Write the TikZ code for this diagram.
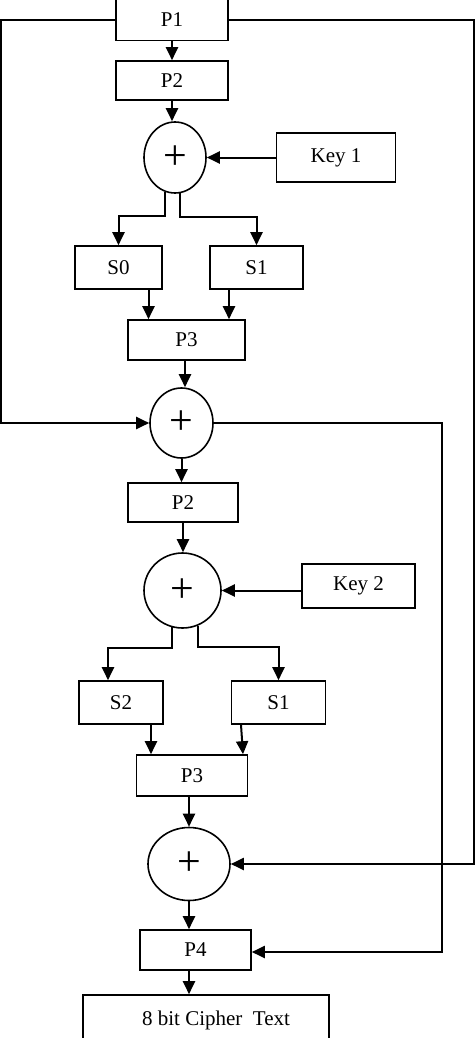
\documentclass[tikz,border=0pt]{standalone}
\usepackage{fontspec}
\setmainfont{Liberation Serif}
\usetikzlibrary{arrows.meta,shapes.geometric,positioning}

\begin{document}
\begin{tikzpicture}[x=1pt, y=-1pt, >={Triangle[length=13pt,width=12pt]}, line width=2pt,
    block/.style={draw, rectangle, line width=1.6pt, inner sep=0pt, font=\fontsize{21}{25}\selectfont},
    xorop/.style={draw, ellipse, line width=1.6pt, inner sep=0pt, font=\fontsize{42}{42}\selectfont}]
    \useasboundingbox (0,0) rectangle (474,1038);

    % first round
    \node[block, minimum width=112pt, minimum height=41pt]  (p1)   at (172,20)      {P1};
    \node[block, minimum width=112pt, minimum height=39pt]  (p2a)  at (172,80.5)    {P2};
    \node[xorop, minimum width=62pt, minimum height=71pt]   (x1)   at (175,157.5)   {+};
    \node[block, minimum width=119pt, minimum height=49pt]  (key1) at (336,157.5)   {Key 1};
    \node[block, minimum width=87pt, minimum height=43pt]   (s0)   at (118.5,267.5) {S0};
    \node[block, minimum width=93pt, minimum height=43pt]   (s1a)  at (256.5,267.5) {S1};
    \node[block, minimum width=117pt, minimum height=40pt]  (p3a)  at (186.5,340)   {P3};
    \node[xorop, minimum width=63pt, minimum height=70pt]   (x2)   at (181.5,423)   {+};

    % second round
    \node[block, minimum width=110pt, minimum height=39pt]  (p2b)  at (183,502.5)   {P2};
    \node[xorop, minimum width=77pt, minimum height=75pt]   (x3)   at (182.5,590.5) {+};
    \node[block, minimum width=113pt, minimum height=44pt]  (key2) at (358.5,586)   {Key 2};
    \node[block, minimum width=84pt, minimum height=43pt]   (s2)   at (121,702.5)   {S2};
    \node[block, minimum width=94pt, minimum height=43pt]   (s1b)  at (278.5,702.5) {S1};
    \node[block, minimum width=111pt, minimum height=41pt]  (p3b)  at (192,775.5)   {P3};
    \node[xorop, minimum width=82pt, minimum height=73pt]   (x4)   at (189,864)     {+};
    \node[block, minimum width=111pt, minimum height=40pt]  (p4)   at (195.5,950)   {P4};
    \node[block, minimum width=246pt, minimum height=50pt]  (ct)   at (206,1020)    {\hspace{20pt}8 bit Cipher\ \ Text};

    % main flow
    \draw[->] (p1.south) -- (p1.south |- p2a.north);
    \draw[->] (p2a.south) -- (p2a.south |- x1.north);
    \draw[->] (key1.west) -- (x1.east);
    \draw[->] (x1.-107) -- ++(0,24) -| (s0.north);
    \draw[->] (x1.-82) -- ++(0,24) -| (s1a.north);
    \draw[->] ([xshift=30pt]s0.south) -- ([xshift=-38pt]p3a.north);
    \draw[->] ([xshift=-27.5pt]s1a.south) -- ([xshift=42.5pt]p3a.north);
    \draw[->] ([xshift=-1.5pt]p3a.south) -- ([xshift=-1.5pt]p3a.south |- x2.north);
    \draw[->] (x2.south) -- (x2.south |- p2b.north);
    \draw[->] (p2b.south) -- (p2b.south |- x3.north);
    \draw[->] (key2.west |- x3.east) -- (x3.east);
    \draw[->] (x3.-106) -- ++(0,21) -| ([xshift=-13pt]s2.north);
    \draw[->] (x3.-66) -- ++(0,21) -| (s1b.north);
    \draw[->] ([xshift=30pt]s2.south) -- ([xshift=-41pt]p3b.north);
    \draw[->] ([xshift=-37.5pt]s1b.south) -- ([xshift=51pt]p3b.north);
    \draw[->] ([xshift=-3pt]p3b.south) -- ([xshift=-3pt]p3b.south |- x4.north);
    \draw[->] (x4.south) -- (x4.south |- p4.north);
    \draw[->] (x4.south |- p4.south) -- (x4.south |- ct.north);

    % bypass lines
    \draw[->] (p1.west) -- ++(-114,0) |- (x2.west);
    \draw[->] (p1.east) -- ++(245,0) |- (x4.east);
    \draw[->] (x2.east) -- ++(228,0) |- ([yshift=-2pt]p4.east);
\end{tikzpicture}
\end{document}
